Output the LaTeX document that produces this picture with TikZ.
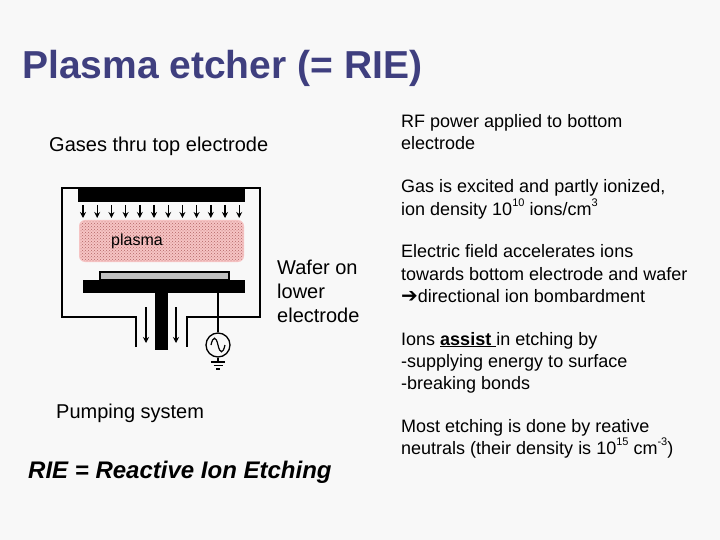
\documentclass[tikz,border=0pt]{standalone}
\usepackage{fontspec}
\setmainfont{Liberation Sans}
\usetikzlibrary{patterns,arrows.meta}
\definecolor{ttl}{HTML}{3F3F7F}
\definecolor{bg}{HTML}{F8F8F8}
\definecolor{pl}{HTML}{F6C4C4}
\newcommand{\sups}[1]{\raisebox{0.45em}{\fontsize{11}{12}\selectfont #1}}
\begin{document}
\begin{tikzpicture}[x=1pt,y=-1pt,
  txt/.style={anchor=west,inner sep=0,font=\fontsize{18}{21}\selectfont},
  blk/.style={fill=black,draw=none},
  dn/.style={-{Stealth[length=6pt,width=6pt]},line width=1.4pt}]
\fill[bg] (0,0) rectangle (720,540);
\useasboundingbox (0,0) rectangle (720,540);
\node[anchor=base west,inner sep=0,text=ttl,font=\fontsize{39}{44}\bfseries\selectfont] (title) at (22,79) {Plasma etcher (= RIE)};
% chamber
\draw[line width=2pt] (136,347) -- (136,317) -- (62,317) -- (62,188) -- (260,188) -- (260,317) -- (187,317) -- (187,347);
\fill[blk] (78,188) rectangle (245,202);
\foreach \i in {0,...,11} \draw[dn] ({83+\i*14.2},205) -- ({83+\i*14.2},218);
\node[draw=none,fill=pl,rounded corners=6pt,minimum width=165,minimum height=42,inner sep=0] (pl) at (161.5,241) {};
\fill[pattern=crosshatch dots,pattern color=red!50!black!60,rounded corners=5pt] (80,221) rectangle (243,261);
\node[inner sep=0,font=\fontsize{16}{19}\selectfont] (plt) at (137,241) {plasma};
\draw[fill=gray!50,line width=1.2pt] (100,272) rectangle (229,280);
\fill[blk] (83,280) rectangle (245,293);
\fill[blk] (155,293) rectangle (168,350);
\draw[dn] (146,307) -- (146,343);
\draw[dn] (176,307) -- (176,343);
\node[draw,circle,line width=1.3pt,minimum size=24,inner sep=0] (src) at (218,345) {};
\draw[line width=1.3pt] (218,293) -- (src.north);
\draw[line width=1.2pt] (211,345) .. controls (213,336) and (216,336) .. (218,345) .. controls (220,354) and (223,354) .. (225,345);
\draw[line width=1.1pt] (src.south) -- (218,362);
\draw[line width=1.1pt] (211,362) -- (225,362) (213.5,365.5) -- (222.5,365.5) (216,369) -- (220,369);
% labels
\node[txt,anchor=base west,font=\fontsize{20}{24}\selectfont] (g) at (49,152) {Gases thru top electrode};
\node[txt,anchor=base west,font=\fontsize{20}{24}\selectfont] (p) at (56,418) {Pumping system};
\node[anchor=north west,inner sep=0,align=left,font=\fontsize{20}{24}\selectfont] (w) at (277,260) {Wafer on\\lower\\electrode};
\node[anchor=base west,inner sep=0,font=\fontsize{24}{28}\bfseries\itshape\selectfont] (rie) at (28,478) {RIE = Reactive Ion Etching};
% right text
\begin{scope}[every node/.style={txt,anchor=base west}]
\node at (401,128) {RF power applied to bottom};
\node at (401,150) {electrode};
\node at (401,193) {Gas is excited and partly ionized,};
\node at (401,215) {ion density 10\sups{10} ions/cm\sups{3}};
\node at (401,258) {Electric field accelerates ions};
\node at (401,280) {towards bottom electrode and wafer};
\node at (401,302) {{\fontspec{DejaVu Sans}\fontsize{20}{22}\selectfont\bfseries ➔}directional ion bombardment};
\node at (401,345) {Ions \textbf{\underline{assist }}in etching by};
\node at (401,367) {-supplying energy to surface};
\node at (401,389) {-breaking bonds};
\node at (401,432) {Most etching is done by reative};
\node at (401,454) {neutrals (their density is 10\sups{15} cm\sups{-3})};
\end{scope}
\end{tikzpicture}
\end{document}
